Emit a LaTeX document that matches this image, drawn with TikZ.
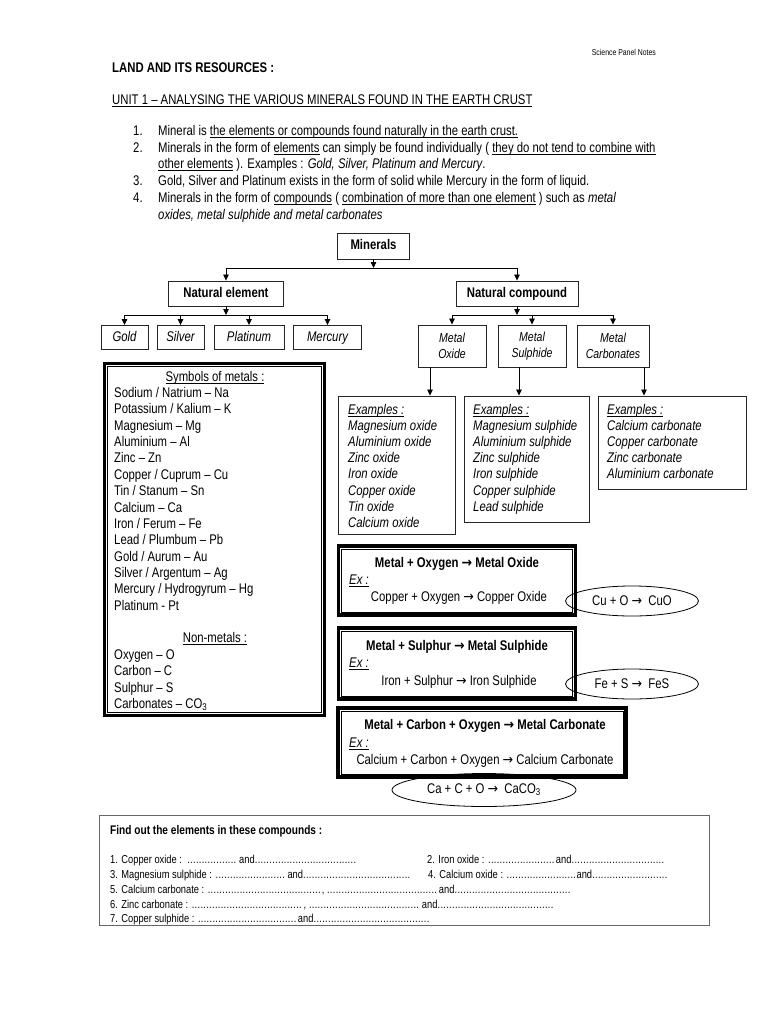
\documentclass[tikz,border=0pt]{standalone}
\usepackage{fontspec}
\setmainfont{Liberation Sans}[FakeStretch=0.81]
\newfontfamily\arrf{DejaVu Sans}[FakeStretch=0.9]
\usetikzlibrary{arrows.meta,shapes.geometric}
\newcommand\fmain{\fontsize{14}{16.4}\selectfont}
\newcommand\fsmall{\fontsize{11.5}{14}\selectfont}
\newcommand\ra{{\arrf →}}
\newcommand\ul[1]{\setbox0\hbox{#1}\rlap{\rule[-1.9pt]{\wd0}{0.6pt}}\box0\relax}
\newcommand\dl[1]{\hbox to #1pt{\leaders\hbox to 2.9pt{\hss.\hss}\hfill}}
\begin{document}
\begin{tikzpicture}[x=1pt,y=-1pt,
  tx/.style={inner sep=0, anchor=base west, font=\fmain},
  tc/.style={inner sep=0, anchor=base, font=\fmain},
  sx/.style={inner sep=0, anchor=base west, font=\fsmall},
  tbox/.style={draw=black!85, line width=0.9, inner sep=0, font=\fmain},
  one/.style={text height=10pt, text depth=3pt},
  arr/.style={line width=0.8, -{Triangle[length=6pt,width=5.5pt]}},
  ln/.style={line width=0.8},
  dblout/.style={draw, line width=3.2, inner sep=0},
  dblin/.style={line width=0.7},
  ell/.style={draw, line width=0.8, ellipse, inner sep=0, font=\fmain}]
\useasboundingbox (0,0) rectangle (768,1024);
\fill[white] (0,0) rectangle (768,1024);

% header
\node[inner sep=0, anchor=base east, font=\fontsize{8.5}{10}\selectfont] (spn) at (656,56) {Science Panel Notes};
\node[tx] (h0) at (112,73) {\bfseries LAND AND ITS RESOURCES :};
\node[tx] (h1) at (112,105) {\ul{UNIT 1 – ANALYSING THE VARIOUS MINERALS FOUND IN THE EARTH CRUST}};

% numbered list
\node[tx] (n1) at (133,136) {1.};
\node[tx] (n2) at (133,153) {2.};
\node[tx] (n3) at (133,186) {3.};
\node[tx] (n4) at (133,203) {4.};
\node[tx] (l1) at (158,136) {Mineral is \ul{the elements or compounds found naturally in the earth crust.}};
\node[tx] (l2a) at (158,153) {Minerals in the form of \ul{elements} can simply be found individually ( \ul{they do not tend to combine with}};
\node[tx] (l2b) at (158,169) {\ul{other elements} ). Examples : \textit{Gold, Silver, Platinum and Mercury}.};
\node[tx] (l3) at (158,186) {Gold, Silver and Platinum exists in the form of solid while Mercury in the form of liquid.};
\node[tx] (l4a) at (158,203) {Minerals in the form of \ul{compounds} ( \ul{combination of more than one element} ) such as \textit{metal}};
\node[tx] (l4b) at (158,219) {\textit{oxides, metal sulphide and metal carbonates}};

% tree
\node[tbox, one, minimum width=72pt, minimum height=26pt, font=\fmain\bfseries] (mn) at (373.5,246) {Minerals};
\node[tbox, one, minimum width=115pt, minimum height=25pt, font=\fmain\bfseries] (ne) at (226,293.5) {Natural element};
\node[tbox, one, minimum width=122pt, minimum height=25pt, font=\fmain\bfseries] (nc) at (517,293.5) {Natural compound};
\node[tbox, one, minimum width=47pt, minimum height=24pt, font=\fmain\itshape] (gold) at (124.5,337.5) {Gold};
\node[tbox, one, minimum width=47pt, minimum height=24pt, font=\fmain\itshape] (silver) at (180.5,337.5) {Silver};
\node[tbox, one, minimum width=70pt, minimum height=24pt, font=\fmain\itshape] (plat) at (249,337.5) {Platinum};
\node[tbox, one, minimum width=68pt, minimum height=24pt, font=\fmain\itshape] (merc) at (327.5,337.5) {Mercury};
\node[tbox, minimum width=68pt, minimum height=42pt, align=center, font=\fontsize{13}{15.5}\selectfont\itshape] (mo) at (452,346) {Metal\\Oxide};
\node[tbox, minimum width=68pt, minimum height=42pt, align=center, font=\fontsize{13}{15.5}\selectfont\itshape] (ms) at (532,346) {Metal\\Sulphide};
\node[tbox, minimum width=72pt, minimum height=42pt, align=center, font=\fontsize{13}{15.5}\selectfont\itshape] (mc) at (613,346) {Metal\\Carbonates};

\coordinate (j1) at (0,268);
\coordinate (j2) at (0,315);
\draw[arr] (mn.south) -- (mn.south |- j1);
\draw[ln] (ne.north |- j1) -- (nc.north |- j1);
\draw[arr] (ne.north |- j1) -- (ne.north);
\draw[arr] (nc.north |- j1) -- (nc.north);
\draw[arr] (ne.south) -- (ne.south |- j2);
\draw[ln] (gold.north |- j2) -- (merc.north |- j2);
\foreach \b in {gold,silver,plat,merc} \draw[arr] (\b.north |- j2) -- (\b.north);
\draw[arr] (nc.south) -- (nc.south |- j2);
\draw[ln] (mo.north |- j2) -- (mc.north |- j2);
\foreach \b in {mo,ms,mc} \draw[arr] (\b.north |- j2) -- (\b.north);

% example boxes
\node[tbox, minimum width=117pt, minimum height=138pt] (ex1) at (397,465) {};
\node[tbox, minimum width=125pt, minimum height=126pt] (ex2) at (526.5,459) {};
\node[tbox, minimum width=148pt, minimum height=93pt] (ex3) at (672,442.5) {};
\coordinate (v1) at (430,0);
\coordinate (v2) at (519,0);
\coordinate (v3) at (644,0);
\draw[arr] (mo.south -| v1) -- (ex1.north -| v1);
\draw[arr] (ms.south -| v2) -- (ex2.north -| v2);
\draw[arr] (mc.south -| v3) -- (ex3.north -| v3);

\node[tx, font=\fmain\itshape] (ex1h) at (348,414.5) {\ul{Examples :}};
\foreach \t [count=\i from 0] in {Magnesium oxide,Aluminium oxide,Zinc oxide,Iron oxide,Copper oxide,Tin oxide,Calcium oxide}
  \node[tx, font=\fmain\itshape] (exa\i) at (348,430.6+16.1*\i) {\t};
\node[tx, font=\fmain\itshape] (ex2h) at (473,414.5) {\ul{Examples :}};
\foreach \t [count=\i from 0] in {Magnesium sulphide,Aluminium sulphide,Zinc sulphide,Iron sulphide,Copper sulphide,Lead sulphide}
  \node[tx, font=\fmain\itshape] (exb\i) at (473,430.6+16.1*\i) {\t};
\node[tx, font=\fmain\itshape] (ex3h) at (607,414.5) {\ul{Examples :}};
\foreach \t [count=\i from 0] in {Calcium carbonate,Copper carbonate,Zinc carbonate,Aluminium carbonate}
  \node[tx, font=\fmain\itshape] (exc\i) at (607,430.6+16.1*\i) {\t};

% symbols box
\node[dblout, minimum width=220pt, minimum height=352pt] (sym) at (214.5,539.5) {};
\draw[dblin] ([shift={(4.5,4.5)}]sym.north west) rectangle ([shift={(-4.5,-4.5)}]sym.south east);
\node[tc] (symh) at (215,381.5) {\ul{Symbols of metals :}};
\foreach \t [count=\i from 0] in {Sodium / Natrium – Na,Potassium / Kalium – K,Magnesium – Mg,Aluminium – Al,Zinc – Zn,Copper / Cuprum – Cu,Tin / Stanum – Sn,Calcium – Ca,Iron / Ferum – Fe,Lead / Plumbum – Pb,Gold / Aurum – Au,Silver / Argentum – Ag,Mercury / Hydrogyrum – Hg,Platinum - Pt}
  \node[tx] (s\i) at (114,397.5+16.36*\i) {\t};
\node[tc] (nmh) at (215,642.5) {\ul{Non-metals :}};
\foreach \t [count=\i from 0] in {Oxygen – O,Carbon – C,Sulphur – S,Carbonates – CO\textsubscript{3}}
  \node[tx] (m\i) at (114,659.5+16.36*\i) {\t};

% reaction boxes
\node[dblout, minimum width=237pt, minimum height=69pt] (r1) at (457,580.5) {};
\draw[dblin] ([shift={(4.5,4.5)}]r1.north west) rectangle ([shift={(-4.5,-4.5)}]r1.south east);
\node[tc, font=\fmain\bfseries] (r1t) at (457,567.5) {Metal + Oxygen \ra{} Metal Oxide};
\node[tx, font=\fmain\itshape] (r1e) at (349,584.5) {\ul{Ex :}};
\node[tc] (r1x) at (459,601.5) {Copper + Oxygen \ra{} Copper Oxide};
\node[ell, minimum width=133pt, minimum height=30pt] (e1) at (632,601) {Cu + O \ra\ \ CuO};

\node[dblout, minimum width=237pt, minimum height=71pt] (r2) at (457,663.5) {};
\draw[dblin] ([shift={(4.5,4.5)}]r2.north west) rectangle ([shift={(-4.5,-4.5)}]r2.south east);
\node[tc, font=\fmain\bfseries] (r2t) at (457,650) {Metal + Sulphur \ra{} Metal Sulphide};
\node[tx, font=\fmain\itshape] (r2e) at (349,667.5) {\ul{Ex :}};
\node[tc] (r2x) at (459,685) {Iron + Sulphur \ra{} Iron Sulphide};
\node[ell, minimum width=133pt, minimum height=30pt] (e2) at (632,684) {Fe + S \ra\ \ FeS};

\node[dblout, minimum width=288pt, minimum height=69pt] (r3) at (482,742.5) {};
\draw[dblin] ([shift={(4.5,4.5)}]r3.north west) rectangle ([shift={(-4.5,-4.5)}]r3.south east);
\node[tc, font=\fmain\bfseries] (r3t) at (485,729) {Metal + Carbon + Oxygen \ra{} Metal Carbonate};
\node[tx, font=\fmain\itshape] (r3e) at (349,747.5) {\ul{Ex :}};
\node[tc] (r3x) at (485,764) {Calcium + Carbon + Oxygen \ra{} Calcium Carbonate};
\node[ell, minimum width=184pt, minimum height=33pt] (e3) at (484,790) {Ca + C + O \ra\ \ CaCO\textsubscript{3}};

% bottom exercise box
\node[draw=black!60, line width=0.9, inner sep=0, minimum width=610pt, minimum height=110pt] (qb) at (404,870) {};
\node[sx, font=\fontsize{12.5}{14}\selectfont\bfseries] (qt) at (110,834) {Find out the elements in these compounds :};
\node[sx] (q1) at (110,863) {1. Copper oxide :\ \ \dl{52}and\dl{104}};
\node[sx] (q2) at (427,863) {2. Iron oxide : \dl{68}and\dl{94}};
\node[sx] (q3) at (110,878) {3. Magnesium sulphide : \dl{72}and\dl{108}};
\node[sx] (q4) at (428,878) {4. Calcium oxide : \dl{70}and\dl{78}};
\node[sx] (q5) at (110,893) {5. Calcium carbonate : \dl{114}, \dl{112}and\dl{118}};
\node[sx] (q6) at (110,908) {6. Zinc carbonate : \dl{112}, \dl{113}and\dl{118}};
\node[sx] (q7) at (110,922) {7. Copper sulphide : \dl{100}and\dl{118}};
\end{tikzpicture}
\end{document}
